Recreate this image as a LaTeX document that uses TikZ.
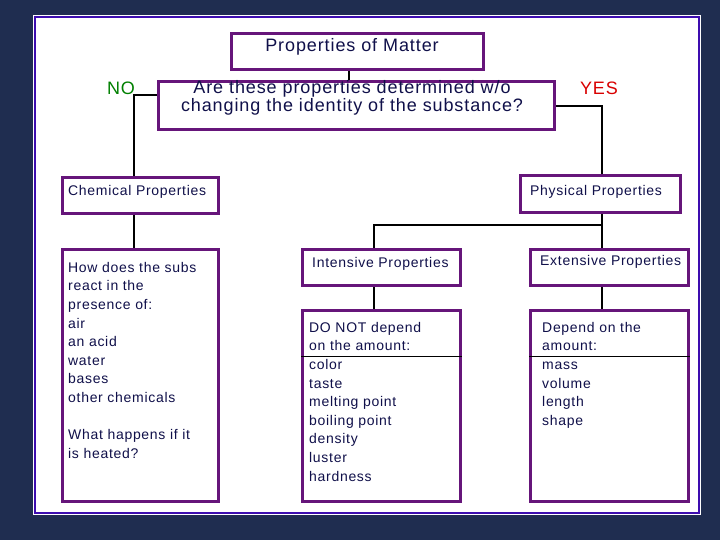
\documentclass[tikz,border=0pt]{standalone}
\usepackage{fontspec}
\setmainfont{Liberation Sans}[LetterSpace=5]
\begin{document}
\begin{tikzpicture}[x=1pt,y=-1pt,
 bx/.style={draw=boxc,line width=3pt},
 tx/.style={text=txtc,font=\fontsize{14}{18.6}\selectfont,align=left,inner sep=0pt},
 big/.style={font=\fontsize{18}{18.5}\selectfont},
 ln/.style={draw=black,line width=1.5pt}]
\definecolor{bgc}{HTML}{1F2D50}
\definecolor{boxc}{HTML}{66157A}
\definecolor{txtc}{HTML}{10104A}
\fill[bgc] (0,0) rectangle (720,540);
\useasboundingbox (0,0) rectangle (720,540);
\fill[white] (33,15) rectangle (701,515);
\draw[draw=boxc!60!blue,line width=2pt] (35,17) rectangle (699,513);
% boxes
\node[bx,minimum width=252,minimum height=36,anchor=north west,inner sep=0] (pm) at (230,32) {};
\node[tx,big] (pmt) at (352,47) {Properties of Matter};
\node[bx,minimum width=396,minimum height=48,anchor=north west,inner sep=0] (q) at (157,80) {};
\node[tx,big,align=center] (qt) at (352,98) {Are these properties determined w/o\\changing the identity of the substance?};
\node[text=green!50!black,big,inner sep=0] (no) at (121,88) {NO};
\node[text=red!85!black,big,inner sep=0] (yes) at (599,88) {YES};
\node[bx,minimum width=156,minimum height=36,anchor=north west,inner sep=0] (ch) at (61,176) {};
\node[tx,anchor=west] (cht) at (68,192) {Chemical Properties};
\node[bx,minimum width=160,minimum height=37,anchor=north west,inner sep=0] (ph) at (519,174) {};
\node[tx,anchor=west] (pht) at (530,192) {Physical Properties};
\node[bx,minimum width=156,minimum height=252,anchor=north west,inner sep=0] (cs) at (61,248) {};
\node[tx,anchor=north west] (cst) at (68,262) {How does the subs\\react in the\\presence of:\\air\\an acid\\water\\bases\\other chemicals\\[18.6pt]What happens if it\\is heated?};
\node[bx,minimum width=158,minimum height=36,anchor=north west,inner sep=0] (in) at (301,248) {};
\node[tx,anchor=west] (int) at (312,264) {Intensive Properties};
\node[bx,minimum width=158,minimum height=36,anchor=north west,inner sep=0] (ex) at (529,248) {};
\node[tx,anchor=west] (ext) at (540,262) {Extensive Properties};
\node[bx,minimum width=158,minimum height=191,anchor=north west,inner sep=0] (il) at (301,309) {};
\node[tx,anchor=north west] (ilt) at (309,322) {DO NOT depend\\on the amount:\\color\\taste\\melting point\\boiling point\\density\\luster\\hardness};
\node[bx,minimum width=158,minimum height=191,anchor=north west,inner sep=0] (el) at (529,309) {};
\node[tx,anchor=north west] (elt) at (542,322) {Depend on the\\amount:\\mass\\volume\\length\\shape};
\draw[line width=0.8pt] (il.west |- 0,356) -- (il.east |- 0,356);
\draw[line width=0.8pt] (el.west |- 0,356) -- (el.east |- 0,356);
% connectors
\draw[ln] (pm.south -| 349,0) -- (q.north -| 349,0);
\draw[ln] (q.west |- 0,95) -| (ch.north -| 134,0);
\draw[ln] (ch.south -| 134,0) -- (cs.north -| 134,0);
\draw[ln] (q.east |- 0,106) -| (ph.north -| 602,0);
\draw[ln] (ph.south -| 602,0) -- (602,225) -| (in.north -| 374,0);
\draw[ln] (602,225) -- (ex.north -| 602,0);
\draw[ln] (in.south -| 374,0) -- (il.north -| 374,0);
\draw[ln] (ex.south -| 602,0) -- (el.north -| 602,0);
\end{tikzpicture}
\end{document}
